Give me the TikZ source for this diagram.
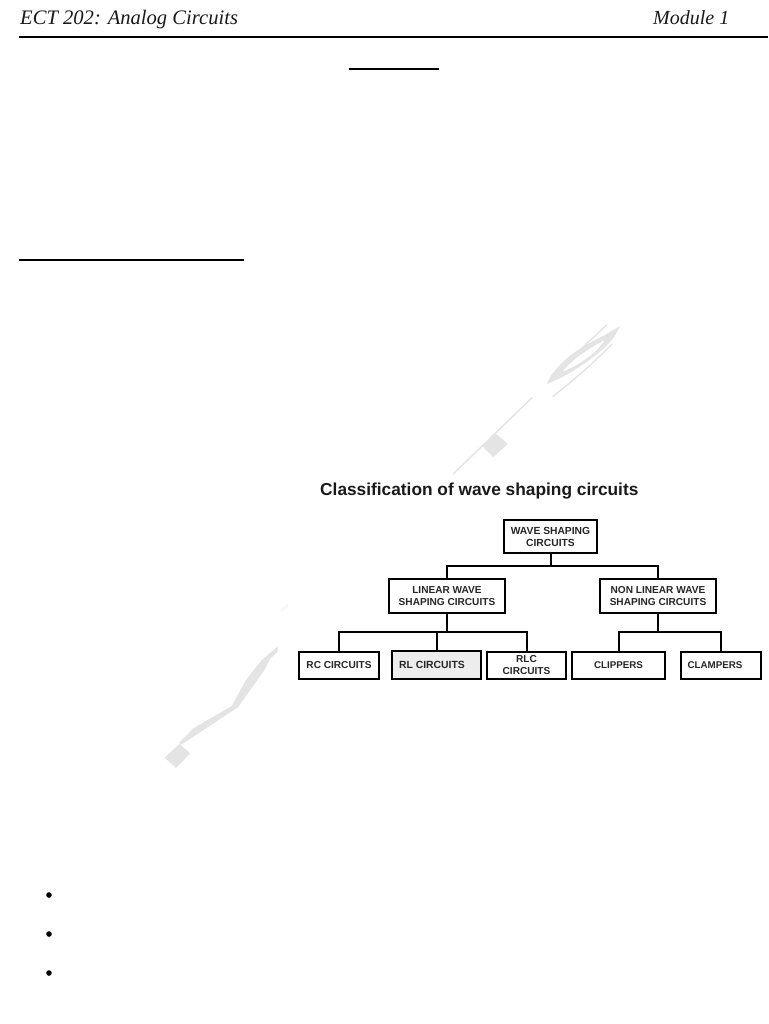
\documentclass[tikz,border=0pt]{standalone}
\usepackage{fontspec}
\setmainfont{Liberation Sans}
\newfontfamily\headfont{Liberation Serif}
\definecolor{wm}{HTML}{E4E4E4}
\tikzset{
  x=1pt,y=-1pt,
  cbox/.style={draw=black,line width=2pt,fill=white,inner sep=0pt,align=center,font=\fontsize{10.1}{12}\selectfont\bfseries,text=black!85},
  conn/.style={draw=black,line width=2pt},
  rulex/.style={draw=black,line width=2pt},
  wmark/.style={fill=wm,draw=none},
  wline/.style={draw=wm,line width=1.5pt},
  head/.style={font=\fontsize{20.6}{24}\selectfont\headfont\itshape,inner sep=0pt,text=black!90},
}
\begin{document}
\begin{tikzpicture}
\useasboundingbox (0,0) rectangle (768,1024);
% header
\node[head,anchor=base west] (h1) at (20,25) {ECT 202: Analog Circuits};
\node[head,anchor=base west,font=\fontsize{20}{24}\selectfont\headfont\itshape] (h2) at (653,25) {Module 1};
\draw[rulex] (19,37) -- (768,37);
\draw[rulex] (349,69) -- (439,69);
\draw[rulex] (19,260) -- (244,260);
% watermark
\fill[wmark] (495,432.7) -- (507.7,444) -- (493.3,457.3) -- (482.3,446) -- cycle;
\draw[wline] (453.3,474) -- (532,397.7);
\fill[wmark,even odd rule] (546.7,384) .. controls (554,366) and (575,349) .. (603.3,336) -- (620,326) .. controls (617,332) and (615,336) .. (611.7,340) .. controls (605,348) and (597,354) .. (593.3,357) .. controls (580,367) and (565,377) .. (546.7,384) -- cycle
 (562,372) .. controls (570,362) and (585,350) .. (605,340) .. controls (601,346) and (597,350) .. (593.3,353.3) .. controls (585,360) and (575,367) .. (562,372) -- cycle;
\draw[wline] (579.3,350.7) -- (606.7,325);
\draw[wline] (552.7,396.5) .. controls (565,387) and (590,367) .. (612,344);
\fill[wmark] (179.3,744) -- (190.3,753.3) -- (176,768) -- (164.7,757.7) -- cycle;
\fill[wmark] (179.3,742.7) -- (193.3,728.3) -- (231.7,706) -- (246,680) -- (261.7,660) -- (277.7,646.7) -- (277.7,651.7) -- (270,659) -- (265,669) -- (238.3,707) -- (199,733) -- (180.7,745) -- cycle;
\fill[wm!30] (280,611) -- (287,603) -- (289,606) -- (283,612) -- cycle;
% title
\node[anchor=base west,inner sep=0pt,font=\fontsize{17.3}{20}\selectfont\bfseries,text=black!90] (title) at (320,495) {Classification of wave shaping circuits};
% boxes
\node[cbox,font=\fontsize{10.3}{12}\selectfont\bfseries,minimum width=92.5pt,minimum height=32.5pt] (root) at (550.5,536.5) {WAVE SHAPING\\CIRCUITS};
\node[cbox,minimum width=115.5pt,minimum height=33.5pt] (lin) at (447,596) {LINEAR WAVE\\SHAPING CIRCUITS};
\node[cbox,minimum width=115.5pt,minimum height=33.5pt] (non) at (658,596) {NON LINEAR WAVE\\SHAPING CIRCUITS};
\node[cbox,minimum width=79.5pt,minimum height=26.5pt] (rc) at (339,665.5) {RC CIRCUITS};
\node[cbox,fill=black!7,font=\fontsize{10.4}{12}\selectfont\bfseries,minimum width=88.5pt,minimum height=27.5pt] (rl) at (436.5,665) {RL CIRCUITS\hspace{9pt}};
\node[cbox,minimum width=78.5pt,minimum height=26.5pt] (rlc) at (526.5,665.5) {\raisebox{-1pt}{RLC}\\\raisebox{-1pt}{CIRCUITS}};
\node[cbox,font=\fontsize{9.8}{12}\selectfont\bfseries,minimum width=92.5pt,minimum height=26.5pt] (clip) at (618.5,665.5) {CLIPPERS};
\node[cbox,font=\fontsize{9.8}{12}\selectfont\bfseries,minimum width=79.5pt,minimum height=26.5pt] (clam) at (721,665.5) {CLAMPERS\hspace{12pt}};
% connectors
\coordinate (j1) at (550.5,565.5);
\coordinate (j2) at (447,632);
\coordinate (j3) at (658,632);
\draw[conn] (root.south) -- (j1);
\draw[conn] (lin.north) |- (j1) -| (non.north);
\draw[conn] (lin.south) -- (j2);
\draw[conn] (rc.north) |- (j2) -| (rlc.north);
\draw[conn] (j2 -| rl.north) -- (rl.north);
\draw[conn] (non.south) -- (j3);
\draw[conn] (clip.north) |- (j3) -| (clam.north);
% bullets
\fill (49,895) circle (2.8);
\fill (49,934) circle (2.8);
\fill (49,973) circle (2.8);
\end{tikzpicture}
\end{document}
